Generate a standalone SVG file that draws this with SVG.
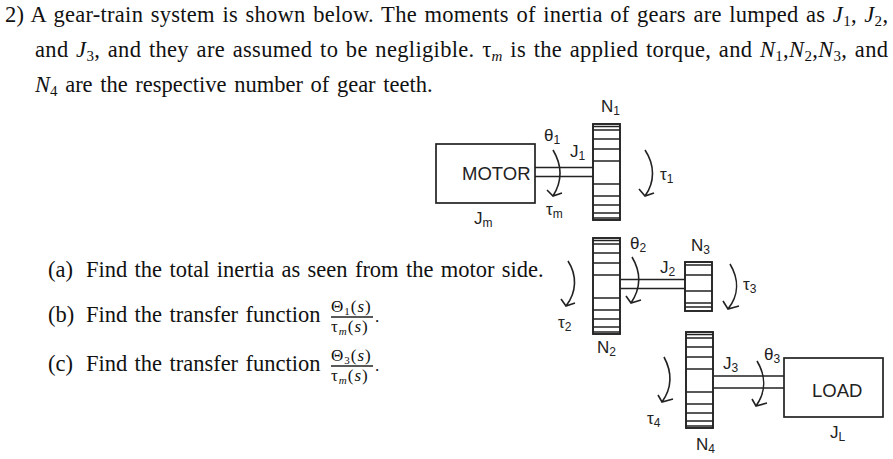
<svg xmlns="http://www.w3.org/2000/svg" width="893" height="459" viewBox="0 0 893 459">
<defs>
<style>
.t{font-family:"Liberation Serif",serif;font-size:22.5px;fill:#111;word-spacing:1.7px}
.f{font-family:"Liberation Serif",serif;font-size:17px;fill:#111;letter-spacing:1px}
.fs{font-size:11px}
.i{font-style:italic}
.sm{font-size:15px}
.s{font-family:"Liberation Sans",sans-serif;font-size:18.500px;fill:#222}
.n{font-family:"Liberation Sans",sans-serif;font-size:17px;fill:#222}
.ss{font-family:"Liberation Sans",sans-serif;font-size:12px;fill:#222}
.b{fill:#fff;stroke:#222;stroke-width:1.7}
.g{fill:#fff;stroke:#222;stroke-width:1.9}
.l{fill:none;stroke:#222;stroke-width:1.6}
.a{fill:none;stroke:#222;stroke-width:1.6}
</style>
<g id="gt"><rect class="g" x="0" y="0" width="27" height="96"/><path class="l" d="M0 2.500H27M0 6H27M0 15H27M0 25H27M0 37H27M0 60H27M0 72H27M0 81H27M0 89H27M0 94H27"/></g>
<g id="gs"><rect class="g" x="0" y="0" width="27" height="49"/><path class="l" d="M0 3H27M0 13H27M0 29H27M0 41H27M0 45H27"/></g>
</defs>
<g id="problem-text">
<text class="t" x="5" y="22" textLength="883" lengthAdjust="spacing">2) A gear-train system is shown below. The moments of inertia of gears are lumped as <tspan class="i">J</tspan><tspan class="sm" dy="4">1</tspan><tspan dy="-4">, </tspan><tspan class="i">J</tspan><tspan class="sm" dy="4">2</tspan><tspan dy="-4">,</tspan></text>
<text class="t" x="35" y="57" textLength="853" lengthAdjust="spacing">and <tspan class="i">J</tspan><tspan class="sm" dy="4">3</tspan><tspan dy="-4">, and they are assumed to be negligible. τ</tspan><tspan class="i sm" dy="4">m</tspan><tspan dy="-4"> is the applied torque, and </tspan><tspan class="i">N</tspan><tspan class="sm" dy="4">1</tspan><tspan dy="-4">,</tspan><tspan class="i">N</tspan><tspan class="sm" dy="4">2</tspan><tspan dy="-4">,</tspan><tspan class="i">N</tspan><tspan class="sm" dy="4">3</tspan><tspan dy="-4">, and</tspan></text>
<text class="t" x="35" y="92" style="word-spacing:2px"><tspan class="i">N</tspan><tspan class="sm" dy="4">4</tspan><tspan dy="-4"> are the respective number of gear teeth.</tspan></text>
<text class="t" x="48" y="277">(a)</text><text class="t" x="86" y="277">Find the total inertia as seen from the motor side.</text>
<text class="t" x="48" y="322">(b)</text><text class="t" x="86" y="322">Find the transfer function</text>
<text class="t" x="48" y="371">(c)</text><text class="t" x="86" y="371">Find the transfer function</text>
<g id="frac-b">
<text class="f" x="331" y="312">Θ<tspan class="fs" dy="3">1</tspan><tspan dy="-3">(</tspan><tspan class="i">s</tspan>)</text>
<path class="a" d="M331 317H373"/>
<text class="f" x="331" y="332">τ<tspan class="i fs" dy="3">m</tspan><tspan dy="-3">(</tspan><tspan class="i">s</tspan>)</text>
<text class="f" x="375" y="322">.</text>
</g>
<g id="frac-c">
<text class="f" x="331" y="361">Θ<tspan class="fs" dy="3">3</tspan><tspan dy="-3">(</tspan><tspan class="i">s</tspan>)</text>
<path class="a" d="M331 366H373"/>
<text class="f" x="331" y="381">τ<tspan class="i fs" dy="3">m</tspan><tspan dy="-3">(</tspan><tspan class="i">s</tspan>)</text>
<text class="f" x="375" y="371">.</text>
</g>
</g>
<g id="connectors">
<path id="shaft-1" class="l" d="M535 167.500H593M535 176.500H593"/>
<path id="shaft-2" class="l" d="M621 279.500H685M621 288.500H685"/>
<path id="shaft-3" class="l" d="M714 376H784M714 388H784"/>
<path class="a" d="M553 150C562 165 563 180 553 196M547 190L553 196L562 193"/>
<path class="a" d="M645 150C655 165 655 182 645 196M639 189L645 196L654 193"/>
<path class="a" d="M568 261C577 275 577 292 566 306M561 299L566 306L575 303"/>
<path class="a" d="M632 257C641 272 641 288 631 303M626 296L631 303L641 300"/>
<path class="a" d="M730 264C739 279 739 295 728 309M723 301L728 309L739 306"/>
<path class="a" d="M664 357C672 372 672 388 662 402M658 395L662 402L673 399"/>
<path class="a" d="M757 361C766 376 766 392 756 406M752 399L756 406L767 403"/>
</g>
<g id="motor"><rect class="b" x="436" y="144" width="99" height="59"/><text class="s" x="462" y="180">MOTOR</text></g>
<g id="load"><rect class="b" x="784" y="358" width="99" height="59"/><text class="s" x="812" y="397">LOAD</text></g>
<g id="gear-n1"><use href="#gt" x="593" y="124"/></g>
<g id="gear-n2"><use href="#gt" x="593" y="238"/></g>
<g id="gear-n3"><use href="#gs" x="685" y="262"/></g>
<g id="gear-n4"><use href="#gt" x="686" y="332"/></g>
<g id="labels">
<text class="n" x="601" y="112">N<tspan class="ss" dy="3">1</tspan></text>
<text class="n" x="544" y="141">θ<tspan class="ss" dy="3">1</tspan></text>
<text class="n" x="570" y="157">J<tspan class="ss" dy="3">1</tspan></text>
<text class="n" x="546" y="215">τ<tspan class="ss" dy="3">m</tspan></text>
<text class="n" x="474" y="224">J<tspan class="ss" dy="3">m</tspan></text>
<text class="n" x="660" y="180">τ<tspan class="ss" dy="3">1</tspan></text>
<text class="n" x="630" y="249">θ<tspan class="ss" dy="3">2</tspan></text>
<text class="n" x="660" y="273">J<tspan class="ss" dy="3">2</tspan></text>
<text class="n" x="691" y="251">N<tspan class="ss" dy="3">3</tspan></text>
<text class="n" x="743" y="290">τ<tspan class="ss" dy="3">3</tspan></text>
<text class="n" x="558" y="328">τ<tspan class="ss" dy="3">2</tspan></text>
<text class="n" x="597" y="353">N<tspan class="ss" dy="3">2</tspan></text>
<text class="n" x="723" y="369">J<tspan class="ss" dy="3">3</tspan></text>
<text class="n" x="764" y="360">θ<tspan class="ss" dy="3">3</tspan></text>
<text class="n" x="647" y="424">τ<tspan class="ss" dy="3">4</tspan></text>
<text class="n" x="696" y="450">N<tspan class="ss" dy="3">4</tspan></text>
<text class="n" x="830" y="438">J<tspan class="ss" dy="3">L</tspan></text>
</g>
</svg>
